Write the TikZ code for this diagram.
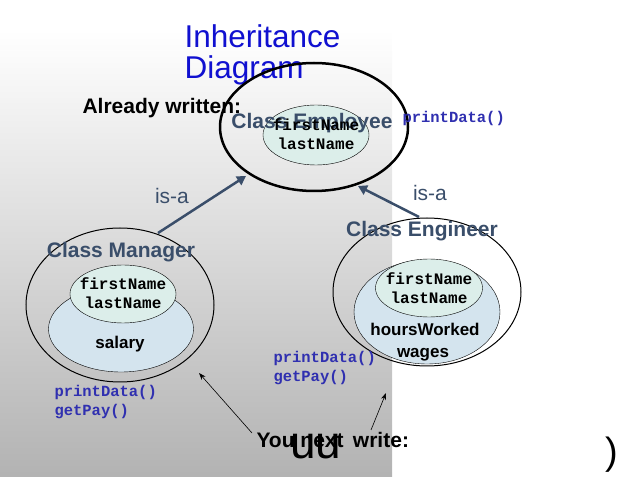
\documentclass[tikz,border=0pt]{standalone}
\usepackage{fontspec}
\setmainfont{Liberation Sans}
\newfontfamily\mono{Liberation Mono}
\usetikzlibrary{shapes.geometric,arrows.meta}
\definecolor{ctitle}{HTML}{1010D0}
\definecolor{cclass}{HTML}{3A4E6A}
\definecolor{cmeth}{HTML}{3030B0}
\definecolor{cfill}{HTML}{D4E4EE}
\definecolor{cfill2}{HTML}{DCEEEA}
\tikzset{
  ell/.style={ellipse, draw=black, inner sep=0pt},
  cls/.style={text=cclass, font=\fontsize{21}{23}\selectfont\bfseries},
  fld/.style={font=\fontsize{16}{19}\selectfont\mono\bfseries, align=center},
  meth/.style={text=cmeth, font=\fontsize{15.5}{19.5}\selectfont\mono\bfseries, align=left, anchor=west},
  lbl/.style={font=\fontsize{21}{23}\selectfont\bfseries},
  isa/.style={text=cclass, font=\fontsize{21}{22}\selectfont},
  bigarr/.style={draw=cclass, line width=2.5pt, -{Triangle[length=9pt,width=10pt]}},
  thinarr/.style={draw=black, line width=0.6pt, -{Stealth[length=7pt,width=5pt]}}
}
\begin{document}
\begin{tikzpicture}[x=1pt,y=-1pt]
\useasboundingbox (0,0) rectangle (638,478);
\shade[top color=white, bottom color=black!30] (0,30) rectangle (392,477);
% title
\node[text=ctitle, font=\fontsize{31.5}{34}\selectfont, anchor=west] (t1) at (181,36) {Inheritance};
\node[text=ctitle, font=\fontsize{31.5}{34}\selectfont, anchor=west] (t2) at (181,70) {Diagram};
\node[lbl, anchor=west] (aw) at (79,108) {Already written:};
% Employee
\node[ell, line width=2.5pt, minimum width=188pt, minimum height=128pt] (emp) at (314,127) {};
\node[ell, fill=cfill2, minimum width=106pt, minimum height=60pt] (empin) at (316,135) {};
\node[cls] (empname) at (312,123) {Class Employee};
\node[fld] (empf) at (316,134) {firstName\\lastName};
\node[meth] (empm) at (399,118) {printData()};
% Manager
\node[ell, line width=1pt, minimum width=188pt, minimum height=154pt] (man) at (120,305) {};
\node[ell, fill=cfill, minimum width=145pt, minimum height=86pt] (manmid) at (121,329) {};
\node[ell, fill=cfill2, minimum width=106pt, minimum height=58pt] (manin) at (123,294) {};
\node[cls] (manname) at (121,252) {Class Manager};
\node[fld] (manf) at (123,293) {firstName\\lastName};
\node[lbl, font=\fontsize{17}{20}\selectfont\bfseries] (sal) at (120,344) {salary};
\node[meth] (manm) at (51,402) {printData()\\getPay()};
% Engineer
\node[ell, line width=1pt, minimum width=188pt, minimum height=148pt] (eng) at (427,292) {};
\node[ell, fill=cfill, minimum width=146pt, minimum height=104pt] (engmid) at (427,312) {};
\node[ell, fill=cfill2, minimum width=107pt, minimum height=58pt] (engin) at (429,288) {};
\node[cls] (engname) at (422,231) {Class Engineer};
\node[fld] (engf) at (429,288) {firstName\\lastName};
\node[lbl, font=\fontsize{17}{20}\selectfont\bfseries] (hw) at (425,329) {hoursWorked};
\node[lbl, font=\fontsize{17}{20}\selectfont\bfseries] (wg) at (423,355) {wages};
\node[meth] (engm) at (270,368) {printData()\\getPay()};
% is-a arrows
\coordinate (a1s) at (158,233); \coordinate (a1e) at (246,176);
\coordinate (a2s) at (419,217); \coordinate (a2e) at (358,186);
\draw[bigarr] (a1s) -- (a1e);
\draw[bigarr] (a2s) -- (a2e);
\node[isa] (isa1) at (172,196) {is-a};
\node[isa] (isa2) at (430,193) {is-a};
% bottom
\node[font=\fontsize{46}{46}\selectfont] (uu) at (316,447) {uu};
\node[lbl, anchor=west] (ynw) at (253,440) {You next\, write:};
\coordinate (p1s) at (252,433); \coordinate (p1e) at (199,373);
\coordinate (p2s) at (371,430); \coordinate (p2e) at (386,393);
\draw[thinarr] (p1s) -- (p1e);
\draw[thinarr] (p2s) -- (p2e);
\node[font=\fontsize{38}{40}\selectfont] (par) at (612,455) {)};
\end{tikzpicture}
\end{document}
